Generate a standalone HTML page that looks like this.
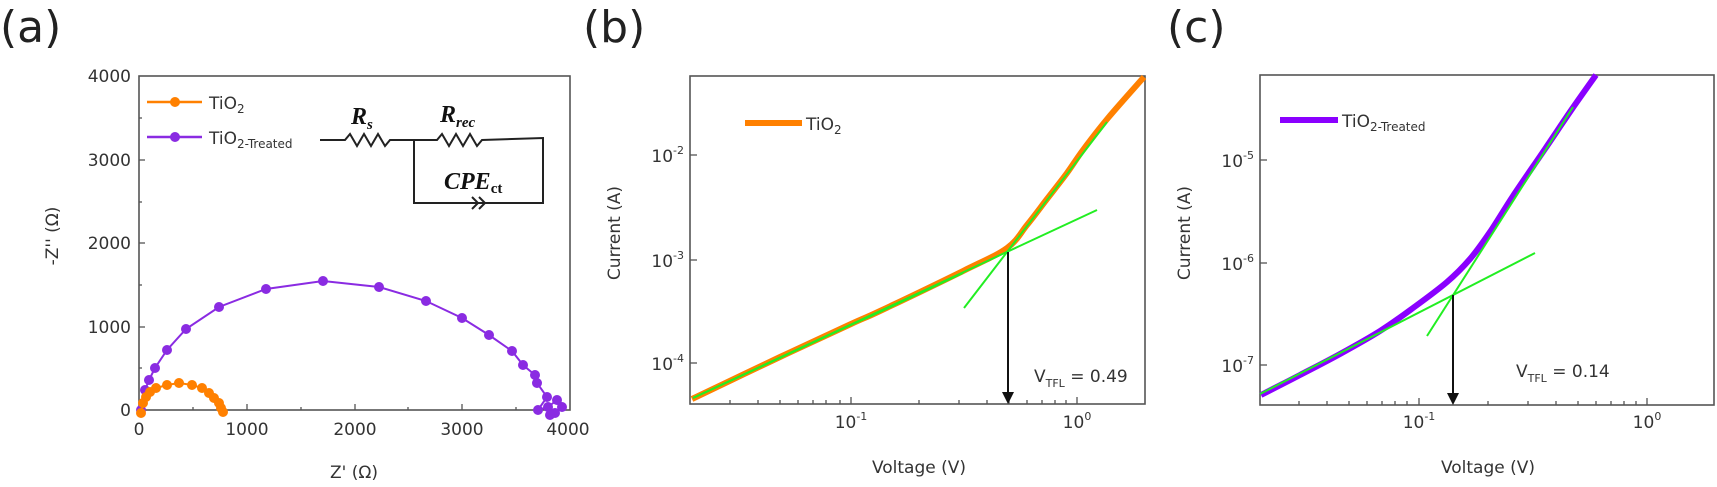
<!DOCTYPE html>
<html><head><meta charset="utf-8"><style>
body{margin:0;background:#fff;}
svg{display:block;font-family:"DejaVu Sans","Liberation Sans",sans-serif;}
.t{font-size:17px;fill:#333;}
.ax{fill:none;stroke:#555;stroke-width:1.6;}
.ser{font-family:"Liberation Serif",serif;font-weight:bold;font-style:italic;font-size:24px;fill:#111;}
</style></head><body>
<svg width="1717" height="487" viewBox="0 0 1717 487" xmlns="http://www.w3.org/2000/svg">
<text x="0" y="42" font-size="44" fill="#222">(a)</text>
<text x="583" y="42" font-size="44" fill="#222">(b)</text>
<text x="1167" y="42" font-size="44" fill="#222">(c)</text>

<!-- ===== Panel (a) ===== -->
<rect x="139" y="76" width="431" height="334" class="ax"/>
<g stroke="#555" stroke-width="1.3">
<line x1="247" y1="410" x2="247" y2="404"/><line x1="355" y1="410" x2="355" y2="404"/><line x1="462" y1="410" x2="462" y2="404"/>
<line x1="193" y1="410" x2="193" y2="407"/><line x1="301" y1="410" x2="301" y2="407"/><line x1="408" y1="410" x2="408" y2="407"/><line x1="516" y1="410" x2="516" y2="407"/>
<line x1="139" y1="327" x2="145" y2="327"/><line x1="139" y1="243" x2="145" y2="243"/><line x1="139" y1="160" x2="145" y2="160"/>
<line x1="139" y1="368" x2="142" y2="368"/><line x1="139" y1="285" x2="142" y2="285"/><line x1="139" y1="202" x2="142" y2="202"/><line x1="139" y1="118" x2="142" y2="118"/>
</g>
<g class="t" text-anchor="end">
<text x="131" y="416">0</text><text x="131" y="333">1000</text><text x="131" y="249">2000</text><text x="131" y="166">3000</text><text x="131" y="82">4000</text>
</g>
<g class="t" text-anchor="middle">
<text x="139" y="435">0</text><text x="247" y="435">1000</text><text x="355" y="435">2000</text><text x="462" y="435">3000</text><text x="568" y="435">4000</text>
<text x="354" y="478">Z' (Ω)</text>
</g>
<text class="t" transform="translate(58,236) rotate(-90)" text-anchor="middle">-Z'' (Ω)</text>
<polyline fill="none" stroke="#8a2be2" stroke-width="2" points="141,410 145,390 149,380 155,368 167,350 186,329 219,307 266,289 323,281 379,287 426,301 462,318 489,335 512,351 523,365 535,375 537,383 547,397 538,410 548,407 557,400 562,407 555,413 550,415"/>
<g fill="#8a2be2">
<circle cx="141" cy="410" r="5"/><circle cx="145" cy="390" r="5"/><circle cx="149" cy="380" r="5"/><circle cx="155" cy="368" r="5"/><circle cx="167" cy="350" r="5"/><circle cx="186" cy="329" r="5"/><circle cx="219" cy="307" r="5"/><circle cx="266" cy="289" r="5"/><circle cx="323" cy="281" r="5"/><circle cx="379" cy="287" r="5"/><circle cx="426" cy="301" r="5"/><circle cx="462" cy="318" r="5"/><circle cx="489" cy="335" r="5"/><circle cx="512" cy="351" r="5"/><circle cx="523" cy="365" r="5"/><circle cx="535" cy="375" r="5"/><circle cx="537" cy="383" r="5"/><circle cx="547" cy="397" r="5"/><circle cx="538" cy="410" r="5"/><circle cx="548" cy="407" r="5"/><circle cx="557" cy="400" r="5"/><circle cx="562" cy="407" r="5"/><circle cx="555" cy="413" r="5"/><circle cx="550" cy="415" r="5"/>
</g>
<polyline fill="none" stroke="#ff8000" stroke-width="2" points="141,413 143,403 146,397 150,392 156,388 167,385 179,383 192,385 202,388 209,393 214,398 219,403 221,408 223,412"/>
<g fill="#ff8000">
<circle cx="141" cy="413" r="5"/><circle cx="143" cy="403" r="5"/><circle cx="146" cy="397" r="5"/><circle cx="150" cy="392" r="5"/><circle cx="156" cy="388" r="5"/><circle cx="167" cy="385" r="5"/><circle cx="179" cy="383" r="5"/><circle cx="192" cy="385" r="5"/><circle cx="202" cy="388" r="5"/><circle cx="209" cy="393" r="5"/><circle cx="214" cy="398" r="5"/><circle cx="219" cy="403" r="5"/><circle cx="221" cy="408" r="5"/><circle cx="223" cy="412" r="5"/>
</g>
<line x1="147" y1="102" x2="202" y2="102" stroke="#ff8000" stroke-width="2.5"/><circle cx="175" cy="102" r="5" fill="#ff8000"/>
<text x="209" y="109" class="t">TiO<tspan font-size="12" dy="4">2</tspan></text>
<line x1="147" y1="137" x2="202" y2="137" stroke="#8a2be2" stroke-width="2.5"/><circle cx="175" cy="137" r="5" fill="#8a2be2"/>
<text x="209" y="144" class="t">TiO<tspan font-size="12" dy="4">2-Treated</tspan></text>
<g fill="none" stroke="#222" stroke-width="2">
<polyline points="320,140 345,140 350,134 357,146 364,134 371,146 378,134 385,146 390,140 437,140 442,134 449,146 456,134 463,146 470,134 477,146 482,140 543,138 543,203 414,203 414,140"/>
<polyline points="472,197 478,203 472,209"/><polyline points="479,197 485,203 479,209"/>
</g>
<text x="351" y="124" class="ser">R<tspan font-size="15" dy="5">s</tspan></text>
<text x="440" y="122" class="ser">R<tspan font-size="15" dy="5">rec</tspan></text>
<text x="444" y="189" class="ser">CPE<tspan font-size="15" dy="4" font-style="normal">ct</tspan></text>

<!-- ===== Panel (b) ===== -->
<rect x="690" y="76" width="455" height="328" class="ax"/>
<g stroke="#555" stroke-width="1.3">
<line x1="851" y1="404" x2="851" y2="397"/><line x1="1077" y1="404" x2="1077" y2="397"/>
<line x1="730" y1="404" x2="730" y2="400"/><line x1="758" y1="404" x2="758" y2="400"/><line x1="780" y1="404" x2="780" y2="400"/><line x1="798" y1="404" x2="798" y2="400"/><line x1="813" y1="404" x2="813" y2="400"/><line x1="826" y1="404" x2="826" y2="400"/><line x1="840" y1="404" x2="840" y2="400"/>
<line x1="919" y1="404" x2="919" y2="400"/><line x1="959" y1="404" x2="959" y2="400"/><line x1="987" y1="404" x2="987" y2="400"/><line x1="1009" y1="404" x2="1009" y2="400"/><line x1="1027" y1="404" x2="1027" y2="400"/><line x1="1042" y1="404" x2="1042" y2="400"/><line x1="1055" y1="404" x2="1055" y2="400"/><line x1="1066" y1="404" x2="1066" y2="400"/>
<line x1="690" y1="155" x2="697" y2="155"/><line x1="690" y1="260" x2="697" y2="260"/><line x1="690" y1="363" x2="697" y2="363"/>
</g>
<g class="t" text-anchor="end">
<text x="684" y="162">10<tspan font-size="11" dy="-8">-2</tspan></text>
<text x="684" y="267">10<tspan font-size="11" dy="-8">-3</tspan></text>
<text x="684" y="370">10<tspan font-size="11" dy="-8">-4</tspan></text>
</g>
<g class="t" text-anchor="middle">
<text x="851" y="428">10<tspan font-size="11" dy="-8">-1</tspan></text>
<text x="1077" y="428">10<tspan font-size="11" dy="-8">0</tspan></text>
<text x="919" y="473">Voltage (V)</text>
</g>
<text class="t" transform="translate(620,233) rotate(-90)" text-anchor="middle">Current (A)</text>
<path class="sm" fill="none" stroke="#ff8000" stroke-width="6" data-p="692,399 780,357 851,324 880,311 963,271 1007,248 1027,225 1047,199 1067,173 1083,150 1108,118 1144,77"/>
<g stroke="#22ee22" stroke-width="2">
<line x1="693" y1="398" x2="1097" y2="210"/><line x1="964" y1="308" x2="1107" y2="122"/>
</g>
<path class="sm" fill="none" stroke="#22ee22" stroke-width="2" data-p="693,398 780,358 851,325 880,312 963,273"/>
<line x1="1008" y1="252" x2="1008" y2="392" stroke="#111" stroke-width="2"/>
<polygon points="1002,392 1014,392 1008,404" fill="#111"/>
<line x1="745" y1="123" x2="802" y2="123" stroke="#ff8000" stroke-width="6"/>
<text x="806" y="130" class="t">TiO<tspan font-size="12" dy="4">2</tspan></text>
<text x="1034" y="382" class="t">V<tspan font-size="11" dy="5">TFL</tspan><tspan dy="-5"> = 0.49</tspan></text>

<!-- ===== Panel (c) ===== -->
<rect x="1260" y="75" width="454" height="330" class="ax"/>
<g stroke="#555" stroke-width="1.3">
<line x1="1419" y1="405" x2="1419" y2="398"/><line x1="1647" y1="405" x2="1647" y2="398"/>
<line x1="1299" y1="405" x2="1299" y2="401"/><line x1="1327" y1="405" x2="1327" y2="401"/><line x1="1349" y1="405" x2="1349" y2="401"/><line x1="1367" y1="405" x2="1367" y2="401"/><line x1="1382" y1="405" x2="1382" y2="401"/><line x1="1395" y1="405" x2="1395" y2="401"/><line x1="1407" y1="405" x2="1407" y2="401"/>
<line x1="1488" y1="405" x2="1488" y2="401"/><line x1="1528" y1="405" x2="1528" y2="401"/><line x1="1556" y1="405" x2="1556" y2="401"/><line x1="1578" y1="405" x2="1578" y2="401"/><line x1="1596" y1="405" x2="1596" y2="401"/><line x1="1611" y1="405" x2="1611" y2="401"/><line x1="1624" y1="405" x2="1624" y2="401"/><line x1="1636" y1="405" x2="1636" y2="401"/>
<line x1="1260" y1="160" x2="1267" y2="160"/><line x1="1260" y1="263" x2="1267" y2="263"/><line x1="1260" y1="365" x2="1267" y2="365"/>
</g>
<g class="t" text-anchor="end">
<text x="1254" y="167">10<tspan font-size="11" dy="-8">-5</tspan></text>
<text x="1254" y="270">10<tspan font-size="11" dy="-8">-6</tspan></text>
<text x="1254" y="372">10<tspan font-size="11" dy="-8">-7</tspan></text>
</g>
<g class="t" text-anchor="middle">
<text x="1419" y="428">10<tspan font-size="11" dy="-8">-1</tspan></text>
<text x="1647" y="428">10<tspan font-size="11" dy="-8">0</tspan></text>
<text x="1488" y="473">Voltage (V)</text>
</g>
<text class="t" transform="translate(1190,233) rotate(-90)" text-anchor="middle">Current (A)</text>
<path class="sm" fill="none" stroke="#8a00ff" stroke-width="6" data-p="1261,395 1300,375 1340,354 1380,331 1413,308 1447,282 1470,259 1490,232 1513,196 1545,149 1572,109 1596,75"/>
<g stroke="#22ee22" stroke-width="2">
<line x1="1260" y1="394" x2="1535" y2="253"/><line x1="1427" y1="336" x2="1573" y2="107"/>
</g>
<line x1="1453" y1="295" x2="1453" y2="393" stroke="#111" stroke-width="2"/>
<polygon points="1447,393 1459,393 1453,405" fill="#111"/>
<line x1="1280" y1="120" x2="1338" y2="120" stroke="#8a00ff" stroke-width="6"/>
<text x="1342" y="127" class="t">TiO<tspan font-size="12" dy="4">2-Treated</tspan></text>
<text x="1516" y="377" class="t">V<tspan font-size="11" dy="5">TFL</tspan><tspan dy="-5"> = 0.14</tspan></text>
</svg>
<script>
document.querySelectorAll('path.sm').forEach(function(el){
 var p=el.getAttribute('data-p').trim().split(/\s+/).map(function(s){return s.split(',').map(Number);});
 var d='M'+p[0][0]+','+p[0][1];
 for(var i=0;i<p.length-1;i++){
  var p0=p[i-1]||p[i],p1=p[i],p2=p[i+1],p3=p[i+2]||p2;
  var c1=[p1[0]+(p2[0]-p0[0])/6,p1[1]+(p2[1]-p0[1])/6];
  var c2=[p2[0]-(p3[0]-p1[0])/6,p2[1]-(p3[1]-p1[1])/6];
  d+=' C'+c1[0]+','+c1[1]+' '+c2[0]+','+c2[1]+' '+p2[0]+','+p2[1];
 }
 el.setAttribute('d',d);
});
</script>
</body></html>
